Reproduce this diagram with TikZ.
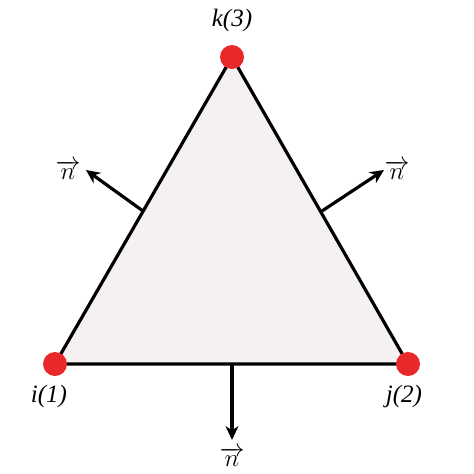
\documentclass[tikz,border=0pt]{standalone}
\usepackage{fontspec}
\setmainfont{Liberation Serif}
\usetikzlibrary{arrows.meta}
\definecolor{trifill}{HTML}{F5F1F0}
\definecolor{vred}{HTML}{E8282B}
\tikzset{
  edge/.style={line width=3.2pt, line join=miter},
  vert/.style={circle, fill=vred, minimum size=24pt, inner sep=0pt},
  normal/.style={line width=3.2pt, -{Stealth[length=14pt,width=13pt]}},
  lab/.style={font=\fontsize{25pt}{28pt}\selectfont\itshape, inner sep=0pt},
  nlab/.style={font=\fontsize{24pt}{27pt}\selectfont, inner sep=0pt}
}
\begin{document}
\begin{tikzpicture}[x=1pt,y=-1pt]
\useasboundingbox (0,0) rectangle (474,474);
\coordinate (K) at (232,57);
\coordinate (I) at (55,364);
\coordinate (J) at (408,364);
\fill[trifill] (I) -- (K) -- (J) -- cycle;
\draw[edge] (I) -- (K) -- (J) -- cycle;
\coordinate (ls) at (143,211);
\coordinate (le) at (86,170);
\coordinate (rs) at (322,211);
\coordinate (re) at (384,170);
\coordinate (bs) at (232,364);
\coordinate (be) at (232,440);
\draw[normal] (ls) -- (le);
\draw[normal] (rs) -- (re);
\draw[normal] (bs) -- (be);
\node[vert] (vk) at (K) {};
\node[vert] (vi) at (I) {};
\node[vert] (vj) at (J) {};
\node[lab] (tk) at (232,20) {k(3)};
\node[lab] (ti) at (49,396) {i(1)};
\node[lab] (tj) at (404,396) {j(2)};
\node[nlab] (nl) at (68,170) {$\overrightarrow{n}$};
\node[nlab] (nr) at (397,170) {$\overrightarrow{n}$};
\node[nlab] (nb) at (232,457) {$\overrightarrow{n}$};
\end{tikzpicture}
\end{document}
